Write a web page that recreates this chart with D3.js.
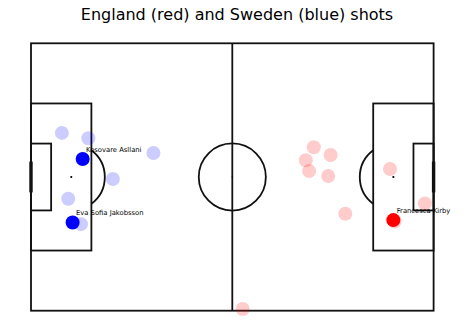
<!DOCTYPE html>
<html><head><meta charset="utf-8">
<script src="https://cdn.jsdelivr.net/npm/d3@7"></script>
<style>body{margin:0;background:#fff;}svg{display:block;font-family:"DejaVu Sans",sans-serif;}</style>
</head><body>
<script>
const title = "England (red) and Sweden (blue) shots";
// Pitch coordinates (StatsBomb 120 x 80, y downwards)
const englandX = [84.3, 89.3, 81.9, 82.9, 88.6, 93.7, 107.0, 117.4, 108.4, 63.1, 108.0];
const englandY = [31.1, 33.4, 35.0, 38.2, 39.7, 51.0, 37.6, 47.9, 53.3, 79.5, 52.9];
const englandGoal = [false, false, false, false, false, false, false, false, false, false, true];
const englandPlayer = ["", "", "", "", "", "", "", "", "", "", "Francesca Kirby"];
const swedenX = [9.2, 17.1, 36.5, 24.4, 11.1, 14.9, 15.4, 12.4];
const swedenY = [26.8, 28.4, 32.8, 40.6, 46.5, 54.1, 34.6, 53.6];
const swedenGoal = [false, false, false, false, false, false, true, true];
const swedenPlayer = ["", "", "", "", "", "", "Kosovare Asllani", "Eva Sofia Jakobsson"];

const W = 474, H = 331;
const svg = d3.select("body").append("svg").attr("width", W).attr("height", H);
const x = d3.scaleLinear().domain([0, 120]).range([31, 433.6]);
const y = d3.scaleLinear().domain([0, 80]).range([43.3, 310.7]);
const kx = (x(1) - x(0));

svg.append("text").attr("x", W / 2).attr("y", 19.5).attr("text-anchor", "middle")
  .attr("font-size", 16).attr("fill", "#000").text(title);

const g = svg.append("g").attr("fill", "none").attr("stroke", "#111").attr("stroke-width", 1.8);
function rect(x0, y0, x1, y1) {
  g.append("rect").attr("x", x(x0)).attr("y", y(y0)).attr("width", x(x1) - x(x0)).attr("height", y(y1) - y(y0));
}
rect(0, 0, 120, 80);
g.append("line").attr("x1", x(60)).attr("x2", x(60)).attr("y1", y(0)).attr("y2", y(80));
rect(0, 18, 18, 62); rect(102, 18, 120, 62);
rect(0, 30, 6, 50); rect(114, 30, 120, 50);
g.append("circle").attr("cx", x(60)).attr("cy", y(40)).attr("r", 10 * kx);
// goals
g.append("line").attr("x1", x(0)).attr("x2", x(0)).attr("y1", y(35.4)).attr("y2", y(44.6)).attr("stroke-width", 3.4);
g.append("line").attr("x1", x(120)).attr("x2", x(120)).attr("y1", y(35.4)).attr("y2", y(44.6)).attr("stroke-width", 3.4);
// arcs
const a = Math.acos(6 / 10);
const arc = d3.arc().innerRadius(10 * kx).outerRadius(10 * kx);
g.append("path").attr("transform", `translate(${x(12)},${y(40)})`)
  .attr("d", arc({startAngle: Math.PI / 2 - a, endAngle: Math.PI / 2 + a}));
g.append("path").attr("transform", `translate(${x(108)},${y(40)})`)
  .attr("d", arc({startAngle: -Math.PI / 2 - a, endAngle: -Math.PI / 2 + a}));
// spots
[[12, 40], [108, 40], [60, 40]].forEach(p => {
  svg.append("circle").attr("cx", x(p[0])).attr("cy", y(p[1])).attr("r", p[0] === 60 ? 0.7 : 1.1).attr("fill", "#000");
});

function drawShots(xs, ys, goals, names, color) {
  const data = xs.map((v, i) => ({x: v, y: ys[i], goal: goals[i], name: names[i]}));
  svg.append("g").selectAll("circle").data(data).join("circle")
    .attr("cx", d => x(d.x)).attr("cy", d => y(d.y)).attr("r", 7)
    .attr("fill", color).attr("fill-opacity", d => d.goal ? 1 : 0.2);
  svg.append("g").selectAll("text").data(data.filter(d => d.goal)).join("text")
    .attr("x", d => x(d.x + 1)).attr("y", d => y(d.y - 2.9)).attr("dy", "0.35em")
    .attr("font-size", 6.8).attr("fill", "#000").text(d => d.name);
}
drawShots(englandX, englandY, englandGoal, englandPlayer, "red");
drawShots(swedenX, swedenY, swedenGoal, swedenPlayer, "blue");
</script>
</body></html>
